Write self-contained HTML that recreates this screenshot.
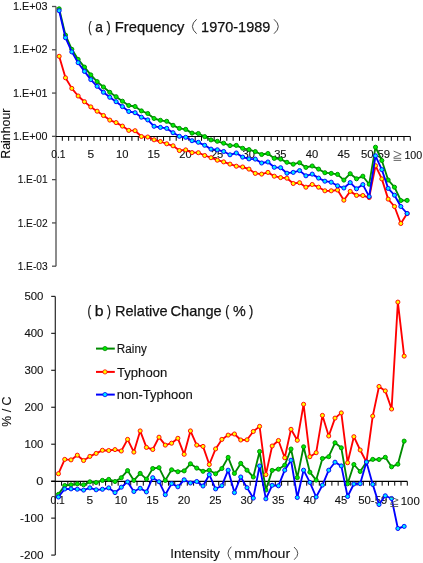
<!DOCTYPE html>
<html><head><meta charset="utf-8"><style>
html,body{margin:0;padding:0;background:#fff;width:423px;height:563px;overflow:hidden}
svg{display:block;will-change:transform}
text{font-family:"Liberation Sans", sans-serif;fill:#111;stroke:#111;stroke-width:0.12px}
.tt{stroke-width:0.25px}
</style></head><body>
<svg width="423" height="563" viewBox="0 0 423 563">
<line x1="56.0" y1="6.5" x2="56.0" y2="266.2" stroke="#666" stroke-width="1.5"/>
<line x1="52" y1="6.5" x2="56.0" y2="6.5" stroke="#505050" stroke-width="1.3"/>
<text x="13.1" y="10.2" font-size="11.8" textLength="34.43" lengthAdjust="spacingAndGlyphs">1.E+03</text>
<line x1="52" y1="49.78" x2="56.0" y2="49.78" stroke="#505050" stroke-width="1.3"/>
<text x="13.1" y="53.48" font-size="11.8" textLength="34.43" lengthAdjust="spacingAndGlyphs">1.E+02</text>
<line x1="52" y1="93.07" x2="56.0" y2="93.07" stroke="#505050" stroke-width="1.3"/>
<text x="13.1" y="96.77" font-size="11.8" textLength="34.43" lengthAdjust="spacingAndGlyphs">1.E+01</text>
<line x1="52" y1="136.35" x2="56.0" y2="136.35" stroke="#505050" stroke-width="1.3"/>
<text x="13.1" y="140.05" font-size="11.8" textLength="34.43" lengthAdjust="spacingAndGlyphs">1.E+00</text>
<line x1="52" y1="179.63" x2="56.0" y2="179.63" stroke="#505050" stroke-width="1.3"/>
<text x="17.64" y="183.33" font-size="11.8" textLength="30.01" lengthAdjust="spacingAndGlyphs">1.E-01</text>
<line x1="52" y1="222.92" x2="56.0" y2="222.92" stroke="#505050" stroke-width="1.3"/>
<text x="17.64" y="226.62" font-size="11.8" textLength="30.01" lengthAdjust="spacingAndGlyphs">1.E-02</text>
<line x1="52" y1="266.2" x2="56.0" y2="266.2" stroke="#505050" stroke-width="1.3"/>
<text x="17.64" y="269.9" font-size="11.8" textLength="30.01" lengthAdjust="spacingAndGlyphs">1.E-03</text>
<line x1="56.0" y1="136.5" x2="410.3" y2="136.5" stroke="#000" stroke-width="1.1"/>
<path d="M62.33 136.5v4.3M68.65 136.5v4.3M74.98 136.5v4.3M81.31 136.5v4.3M87.63 136.5v4.3M93.96 136.5v4.3M100.29 136.5v4.3M106.61 136.5v4.3M112.94 136.5v4.3M119.27 136.5v4.3M125.59 136.5v4.3M131.92 136.5v4.3M138.25 136.5v4.3M144.57 136.5v4.3M150.9 136.5v4.3M157.23 136.5v4.3M163.56 136.5v4.3M169.88 136.5v4.3M176.21 136.5v4.3M182.54 136.5v4.3M188.86 136.5v4.3M195.19 136.5v4.3M201.52 136.5v4.3M207.84 136.5v4.3M214.17 136.5v4.3M220.5 136.5v4.3M226.82 136.5v4.3M233.15 136.5v4.3M239.48 136.5v4.3M245.8 136.5v4.3M252.13 136.5v4.3M258.46 136.5v4.3M264.78 136.5v4.3M271.11 136.5v4.3M277.44 136.5v4.3M283.76 136.5v4.3M290.09 136.5v4.3M296.42 136.5v4.3M302.74 136.5v4.3M309.07 136.5v4.3M315.4 136.5v4.3M321.73 136.5v4.3M328.05 136.5v4.3M334.38 136.5v4.3M340.71 136.5v4.3M347.03 136.5v4.3M353.36 136.5v4.3M359.69 136.5v4.3M366.01 136.5v4.3M372.34 136.5v4.3M378.67 136.5v4.3M384.99 136.5v4.3M391.32 136.5v4.3M397.65 136.5v4.3M403.97 136.5v4.3M410.3 136.5v4.3" stroke="#000" stroke-width="1" fill="none"/>
<text x="51.27" y="158" font-size="11.5" textLength="14.3" lengthAdjust="spacingAndGlyphs">0.1</text>
<text x="87.48" y="158" font-size="11.5" textLength="6.66" lengthAdjust="spacingAndGlyphs">5</text>
<text x="115.98" y="158" font-size="11.5" textLength="12.46" lengthAdjust="spacingAndGlyphs">10</text>
<text x="147.61" y="158" font-size="11.5" textLength="12.46" lengthAdjust="spacingAndGlyphs">15</text>
<text x="179.25" y="158" font-size="11.5" textLength="12.46" lengthAdjust="spacingAndGlyphs">20</text>
<text x="210.88" y="158" font-size="11.5" textLength="12.46" lengthAdjust="spacingAndGlyphs">25</text>
<text x="242.51" y="158" font-size="11.5" textLength="12.46" lengthAdjust="spacingAndGlyphs">30</text>
<text x="274.15" y="158" font-size="11.5" textLength="12.46" lengthAdjust="spacingAndGlyphs">35</text>
<text x="305.78" y="158" font-size="11.5" textLength="12.46" lengthAdjust="spacingAndGlyphs">40</text>
<text x="337.42" y="158" font-size="11.5" textLength="12.46" lengthAdjust="spacingAndGlyphs">45</text>
<text x="360.96" y="158" font-size="11.5" textLength="29.13" lengthAdjust="spacingAndGlyphs">50-59</text>
<polyline points="59.16,8.8 65.49,35.1 71.82,49.3 78.14,59.4 84.47,67.1 90.8,74.9 97.12,81.6 103.45,87 109.78,92.3 116.1,96.7 122.43,101.2 128.76,105.5 135.08,106.5 141.41,110.9 147.74,113.5 154.07,118.5 160.39,120.3 166.72,121.3 173.05,125.3 179.37,128.4 185.7,129.4 192.03,133.1 198.35,133.5 204.68,136.6 211.01,139.9 217.33,141.3 223.66,143.2 229.99,145.6 236.31,145.4 242.64,148.3 248.97,149.6 255.29,151.6 261.62,154.5 267.95,153.5 274.27,158.4 280.6,159.1 286.93,162.3 293.25,164.2 299.58,162.7 305.91,167.4 312.23,166 318.56,169.1 324.89,172.7 331.22,173.4 337.54,174.4 343.87,180.1 350.2,173.7 356.52,178.8 362.85,176.2 369.18,184.2 375.5,147.2 381.83,160.5 388.16,180 394.48,187.2 400.81,200.5 407.14,200.4" fill="none" stroke="#008a00" stroke-width="1.85" stroke-linejoin="round"/><g fill="#00ee00" stroke="#008a00" stroke-width="0.95"><circle cx="59.16" cy="8.8" r="2.05"/><circle cx="65.49" cy="35.1" r="2.05"/><circle cx="71.82" cy="49.3" r="2.05"/><circle cx="78.14" cy="59.4" r="2.05"/><circle cx="84.47" cy="67.1" r="2.05"/><circle cx="90.8" cy="74.9" r="2.05"/><circle cx="97.12" cy="81.6" r="2.05"/><circle cx="103.45" cy="87" r="2.05"/><circle cx="109.78" cy="92.3" r="2.05"/><circle cx="116.1" cy="96.7" r="2.05"/><circle cx="122.43" cy="101.2" r="2.05"/><circle cx="128.76" cy="105.5" r="2.05"/><circle cx="135.08" cy="106.5" r="2.05"/><circle cx="141.41" cy="110.9" r="2.05"/><circle cx="147.74" cy="113.5" r="2.05"/><circle cx="154.07" cy="118.5" r="2.05"/><circle cx="160.39" cy="120.3" r="2.05"/><circle cx="166.72" cy="121.3" r="2.05"/><circle cx="173.05" cy="125.3" r="2.05"/><circle cx="179.37" cy="128.4" r="2.05"/><circle cx="185.7" cy="129.4" r="2.05"/><circle cx="192.03" cy="133.1" r="2.05"/><circle cx="198.35" cy="133.5" r="2.05"/><circle cx="204.68" cy="136.6" r="2.05"/><circle cx="211.01" cy="139.9" r="2.05"/><circle cx="217.33" cy="141.3" r="2.05"/><circle cx="223.66" cy="143.2" r="2.05"/><circle cx="229.99" cy="145.6" r="2.05"/><circle cx="236.31" cy="145.4" r="2.05"/><circle cx="242.64" cy="148.3" r="2.05"/><circle cx="248.97" cy="149.6" r="2.05"/><circle cx="255.29" cy="151.6" r="2.05"/><circle cx="261.62" cy="154.5" r="2.05"/><circle cx="267.95" cy="153.5" r="2.05"/><circle cx="274.27" cy="158.4" r="2.05"/><circle cx="280.6" cy="159.1" r="2.05"/><circle cx="286.93" cy="162.3" r="2.05"/><circle cx="293.25" cy="164.2" r="2.05"/><circle cx="299.58" cy="162.7" r="2.05"/><circle cx="305.91" cy="167.4" r="2.05"/><circle cx="312.23" cy="166" r="2.05"/><circle cx="318.56" cy="169.1" r="2.05"/><circle cx="324.89" cy="172.7" r="2.05"/><circle cx="331.22" cy="173.4" r="2.05"/><circle cx="337.54" cy="174.4" r="2.05"/><circle cx="343.87" cy="180.1" r="2.05"/><circle cx="350.2" cy="173.7" r="2.05"/><circle cx="356.52" cy="178.8" r="2.05"/><circle cx="362.85" cy="176.2" r="2.05"/><circle cx="369.18" cy="184.2" r="2.05"/><circle cx="375.5" cy="147.2" r="2.05"/><circle cx="381.83" cy="160.5" r="2.05"/><circle cx="388.16" cy="180" r="2.05"/><circle cx="394.48" cy="187.2" r="2.05"/><circle cx="400.81" cy="200.5" r="2.05"/><circle cx="407.14" cy="200.4" r="2.05"/></g>
<polyline points="59.16,56.3 65.49,77.8 71.82,88.4 78.14,96 84.47,101.7 90.8,106.9 97.12,111.2 103.45,115.5 109.78,120.1 116.1,122.6 122.43,126.1 128.76,130.4 135.08,130.7 141.41,136.5 147.74,137 154.07,139.8 160.39,141.5 166.72,143.8 173.05,145.8 179.37,150.5 185.7,149.9 192.03,152.6 198.35,152.7 204.68,155.5 211.01,157.7 217.33,160.2 223.66,161.9 229.99,164.1 236.31,166.2 242.64,167 248.97,169.1 255.29,173.4 261.62,174.1 267.95,172.4 274.27,176.2 280.6,177.6 286.93,178.2 293.25,183.5 299.58,182.7 305.91,187.2 312.23,184.5 318.56,187.2 324.89,190.8 331.22,190.8 337.54,190 343.87,200.2 350.2,191.4 356.52,195.4 362.85,195.5 369.18,197.6 375.5,165.7 381.83,178.9 388.16,199.1 394.48,206.5 400.81,223.5 407.14,213.5" fill="none" stroke="#ff0000" stroke-width="1.85" stroke-linejoin="round"/><g fill="#ffff00" stroke="#ff0000" stroke-width="0.95"><circle cx="59.16" cy="56.3" r="2.05"/><circle cx="65.49" cy="77.8" r="2.05"/><circle cx="71.82" cy="88.4" r="2.05"/><circle cx="78.14" cy="96" r="2.05"/><circle cx="84.47" cy="101.7" r="2.05"/><circle cx="90.8" cy="106.9" r="2.05"/><circle cx="97.12" cy="111.2" r="2.05"/><circle cx="103.45" cy="115.5" r="2.05"/><circle cx="109.78" cy="120.1" r="2.05"/><circle cx="116.1" cy="122.6" r="2.05"/><circle cx="122.43" cy="126.1" r="2.05"/><circle cx="128.76" cy="130.4" r="2.05"/><circle cx="135.08" cy="130.7" r="2.05"/><circle cx="141.41" cy="136.5" r="2.05"/><circle cx="147.74" cy="137" r="2.05"/><circle cx="154.07" cy="139.8" r="2.05"/><circle cx="160.39" cy="141.5" r="2.05"/><circle cx="166.72" cy="143.8" r="2.05"/><circle cx="173.05" cy="145.8" r="2.05"/><circle cx="179.37" cy="150.5" r="2.05"/><circle cx="185.7" cy="149.9" r="2.05"/><circle cx="192.03" cy="152.6" r="2.05"/><circle cx="198.35" cy="152.7" r="2.05"/><circle cx="204.68" cy="155.5" r="2.05"/><circle cx="211.01" cy="157.7" r="2.05"/><circle cx="217.33" cy="160.2" r="2.05"/><circle cx="223.66" cy="161.9" r="2.05"/><circle cx="229.99" cy="164.1" r="2.05"/><circle cx="236.31" cy="166.2" r="2.05"/><circle cx="242.64" cy="167" r="2.05"/><circle cx="248.97" cy="169.1" r="2.05"/><circle cx="255.29" cy="173.4" r="2.05"/><circle cx="261.62" cy="174.1" r="2.05"/><circle cx="267.95" cy="172.4" r="2.05"/><circle cx="274.27" cy="176.2" r="2.05"/><circle cx="280.6" cy="177.6" r="2.05"/><circle cx="286.93" cy="178.2" r="2.05"/><circle cx="293.25" cy="183.5" r="2.05"/><circle cx="299.58" cy="182.7" r="2.05"/><circle cx="305.91" cy="187.2" r="2.05"/><circle cx="312.23" cy="184.5" r="2.05"/><circle cx="318.56" cy="187.2" r="2.05"/><circle cx="324.89" cy="190.8" r="2.05"/><circle cx="331.22" cy="190.8" r="2.05"/><circle cx="337.54" cy="190" r="2.05"/><circle cx="343.87" cy="200.2" r="2.05"/><circle cx="350.2" cy="191.4" r="2.05"/><circle cx="356.52" cy="195.4" r="2.05"/><circle cx="362.85" cy="195.5" r="2.05"/><circle cx="369.18" cy="197.6" r="2.05"/><circle cx="375.5" cy="165.7" r="2.05"/><circle cx="381.83" cy="178.9" r="2.05"/><circle cx="388.16" cy="199.1" r="2.05"/><circle cx="394.48" cy="206.5" r="2.05"/><circle cx="400.81" cy="223.5" r="2.05"/><circle cx="407.14" cy="213.5" r="2.05"/></g>
<polyline points="59.16,10.7 65.49,37.7 71.82,51.9 78.14,62.7 84.47,71.4 90.8,79.6 97.12,86.3 103.45,92.3 109.78,97.3 116.1,101.7 122.43,106.6 128.76,111.5 135.08,112.7 141.41,117.2 147.74,119.9 154.07,126.3 160.39,127.4 166.72,128.4 173.05,132.7 179.37,136.3 185.7,137.3 192.03,140.7 198.35,142.3 204.68,145.3 211.01,149.1 217.33,149.8 223.66,151.5 229.99,154.8 236.31,153 242.64,157.1 248.97,158.9 255.29,159.1 261.62,163 267.95,162 274.27,167.3 280.6,167.7 286.93,173.2 293.25,172.4 299.58,170.6 305.91,175.8 312.23,174.1 318.56,178.1 324.89,181.2 331.22,182.2 337.54,185.8 343.87,188 350.2,182.6 356.52,188.8 362.85,184.6 369.18,196.6 375.5,155.8 381.83,169.6 388.16,188.4 394.48,195.2 400.81,206.5 407.14,213.5" fill="none" stroke="#0000ff" stroke-width="1.85" stroke-linejoin="round"/><g fill="#00e8ff" stroke="#0000ff" stroke-width="0.95"><circle cx="59.16" cy="10.7" r="2.05"/><circle cx="65.49" cy="37.7" r="2.05"/><circle cx="71.82" cy="51.9" r="2.05"/><circle cx="78.14" cy="62.7" r="2.05"/><circle cx="84.47" cy="71.4" r="2.05"/><circle cx="90.8" cy="79.6" r="2.05"/><circle cx="97.12" cy="86.3" r="2.05"/><circle cx="103.45" cy="92.3" r="2.05"/><circle cx="109.78" cy="97.3" r="2.05"/><circle cx="116.1" cy="101.7" r="2.05"/><circle cx="122.43" cy="106.6" r="2.05"/><circle cx="128.76" cy="111.5" r="2.05"/><circle cx="135.08" cy="112.7" r="2.05"/><circle cx="141.41" cy="117.2" r="2.05"/><circle cx="147.74" cy="119.9" r="2.05"/><circle cx="154.07" cy="126.3" r="2.05"/><circle cx="160.39" cy="127.4" r="2.05"/><circle cx="166.72" cy="128.4" r="2.05"/><circle cx="173.05" cy="132.7" r="2.05"/><circle cx="179.37" cy="136.3" r="2.05"/><circle cx="185.7" cy="137.3" r="2.05"/><circle cx="192.03" cy="140.7" r="2.05"/><circle cx="198.35" cy="142.3" r="2.05"/><circle cx="204.68" cy="145.3" r="2.05"/><circle cx="211.01" cy="149.1" r="2.05"/><circle cx="217.33" cy="149.8" r="2.05"/><circle cx="223.66" cy="151.5" r="2.05"/><circle cx="229.99" cy="154.8" r="2.05"/><circle cx="236.31" cy="153" r="2.05"/><circle cx="242.64" cy="157.1" r="2.05"/><circle cx="248.97" cy="158.9" r="2.05"/><circle cx="255.29" cy="159.1" r="2.05"/><circle cx="261.62" cy="163" r="2.05"/><circle cx="267.95" cy="162" r="2.05"/><circle cx="274.27" cy="167.3" r="2.05"/><circle cx="280.6" cy="167.7" r="2.05"/><circle cx="286.93" cy="173.2" r="2.05"/><circle cx="293.25" cy="172.4" r="2.05"/><circle cx="299.58" cy="170.6" r="2.05"/><circle cx="305.91" cy="175.8" r="2.05"/><circle cx="312.23" cy="174.1" r="2.05"/><circle cx="318.56" cy="178.1" r="2.05"/><circle cx="324.89" cy="181.2" r="2.05"/><circle cx="331.22" cy="182.2" r="2.05"/><circle cx="337.54" cy="185.8" r="2.05"/><circle cx="343.87" cy="188" r="2.05"/><circle cx="350.2" cy="182.6" r="2.05"/><circle cx="356.52" cy="188.8" r="2.05"/><circle cx="362.85" cy="184.6" r="2.05"/><circle cx="369.18" cy="196.6" r="2.05"/><circle cx="375.5" cy="155.8" r="2.05"/><circle cx="381.83" cy="169.6" r="2.05"/><circle cx="388.16" cy="188.4" r="2.05"/><circle cx="394.48" cy="195.2" r="2.05"/><circle cx="400.81" cy="206.5" r="2.05"/><circle cx="407.14" cy="213.5" r="2.05"/></g>
<line x1="55.3" y1="296.4" x2="55.3" y2="555.1" stroke="#262626" stroke-width="1.2"/>
<line x1="51.2" y1="296.4" x2="55.3" y2="296.4" stroke="#262626" stroke-width="1.2"/>
<text x="24.42" y="299.8" font-size="11.8" textLength="19.01" lengthAdjust="spacingAndGlyphs">500</text>
<line x1="51.2" y1="333.36" x2="55.3" y2="333.36" stroke="#262626" stroke-width="1.2"/>
<text x="24.42" y="336.76" font-size="11.8" textLength="19.01" lengthAdjust="spacingAndGlyphs">400</text>
<line x1="51.2" y1="370.31" x2="55.3" y2="370.31" stroke="#262626" stroke-width="1.2"/>
<text x="24.42" y="373.71" font-size="11.8" textLength="19.01" lengthAdjust="spacingAndGlyphs">300</text>
<line x1="51.2" y1="407.27" x2="55.3" y2="407.27" stroke="#262626" stroke-width="1.2"/>
<text x="24.42" y="410.67" font-size="11.8" textLength="19.01" lengthAdjust="spacingAndGlyphs">200</text>
<line x1="51.2" y1="444.23" x2="55.3" y2="444.23" stroke="#262626" stroke-width="1.2"/>
<text x="24.42" y="447.63" font-size="11.8" textLength="19.01" lengthAdjust="spacingAndGlyphs">100</text>
<line x1="51.2" y1="481.19" x2="55.3" y2="481.19" stroke="#262626" stroke-width="1.2"/>
<text x="36.36" y="484.59" font-size="11.8" textLength="7.12" lengthAdjust="spacingAndGlyphs">0</text>
<line x1="51.2" y1="518.14" x2="55.3" y2="518.14" stroke="#262626" stroke-width="1.2"/>
<text x="20" y="521.54" font-size="11.8" textLength="23.48" lengthAdjust="spacingAndGlyphs">-100</text>
<line x1="51.2" y1="555.1" x2="55.3" y2="555.1" stroke="#262626" stroke-width="1.2"/>
<text x="20" y="558.5" font-size="11.8" textLength="23.48" lengthAdjust="spacingAndGlyphs">-200</text>
<line x1="51.2" y1="481.4" x2="407.3" y2="481.4" stroke="#000" stroke-width="1.2"/>
<path d="M61.59 481.4v4.3M67.87 481.4v4.3M74.16 481.4v4.3M80.44 481.4v4.3M86.73 481.4v4.3M93.01 481.4v4.3M99.3 481.4v4.3M105.59 481.4v4.3M111.87 481.4v4.3M118.16 481.4v4.3M124.44 481.4v4.3M130.73 481.4v4.3M137.01 481.4v4.3M143.3 481.4v4.3M149.59 481.4v4.3M155.87 481.4v4.3M162.16 481.4v4.3M168.44 481.4v4.3M174.73 481.4v4.3M181.01 481.4v4.3M187.3 481.4v4.3M193.59 481.4v4.3M199.87 481.4v4.3M206.16 481.4v4.3M212.44 481.4v4.3M218.73 481.4v4.3M225.01 481.4v4.3M231.3 481.4v4.3M237.59 481.4v4.3M243.87 481.4v4.3M250.16 481.4v4.3M256.44 481.4v4.3M262.73 481.4v4.3M269.01 481.4v4.3M275.3 481.4v4.3M281.59 481.4v4.3M287.87 481.4v4.3M294.16 481.4v4.3M300.44 481.4v4.3M306.73 481.4v4.3M313.01 481.4v4.3M319.3 481.4v4.3M325.59 481.4v4.3M331.87 481.4v4.3M338.16 481.4v4.3M344.44 481.4v4.3M350.73 481.4v4.3M357.01 481.4v4.3M363.3 481.4v4.3M369.59 481.4v4.3M375.87 481.4v4.3M382.16 481.4v4.3M388.44 481.4v4.3M394.73 481.4v4.3M401.01 481.4v4.3M407.3 481.4v4.3" stroke="#000" stroke-width="1" fill="none"/>
<text x="50.55" y="504.4" font-size="11.5" textLength="14.3" lengthAdjust="spacingAndGlyphs">0.1</text>
<text x="86.55" y="504.4" font-size="11.5" textLength="6.66" lengthAdjust="spacingAndGlyphs">5</text>
<text x="114.85" y="504.4" font-size="11.5" textLength="12.46" lengthAdjust="spacingAndGlyphs">10</text>
<text x="146.28" y="504.4" font-size="11.5" textLength="12.46" lengthAdjust="spacingAndGlyphs">15</text>
<text x="177.7" y="504.4" font-size="11.5" textLength="12.46" lengthAdjust="spacingAndGlyphs">20</text>
<text x="209.13" y="504.4" font-size="11.5" textLength="12.46" lengthAdjust="spacingAndGlyphs">25</text>
<text x="240.56" y="504.4" font-size="11.5" textLength="12.46" lengthAdjust="spacingAndGlyphs">30</text>
<text x="271.99" y="504.4" font-size="11.5" textLength="12.46" lengthAdjust="spacingAndGlyphs">35</text>
<text x="303.42" y="504.4" font-size="11.5" textLength="12.46" lengthAdjust="spacingAndGlyphs">40</text>
<text x="334.85" y="504.4" font-size="11.5" textLength="12.46" lengthAdjust="spacingAndGlyphs">45</text>
<text x="358.18" y="504.4" font-size="11.5" textLength="29.13" lengthAdjust="spacingAndGlyphs">50-59</text>
<polyline points="58.44,494.4 64.73,485.5 71.01,484.8 77.3,483.9 83.59,484.8 89.87,481.8 96.16,482.5 102.44,480.4 108.73,479.4 115.01,481.5 121.3,477.7 127.59,470.6 133.87,480.4 140.16,473.4 146.44,479.1 152.73,468.5 159.01,467.7 165.3,480.4 171.59,469.8 177.87,471.7 184.16,470.9 190.44,463.8 196.73,468.1 203.01,471.3 209.3,470.2 215.59,473.8 221.87,468.5 228.16,457.4 234.44,473.4 240.73,463.4 247.01,470.2 253.3,477 259.59,451.5 265.87,490 272.16,470.4 278.44,469.2 284.73,465.2 291.01,449 297.3,477.6 303.59,446.8 309.87,472.2 316.16,480.1 322.44,458.5 328.73,456.7 335.01,442.8 341.3,447.8 347.59,483.8 353.87,464.5 360.16,471.5 366.44,462 372.73,459.4 379.01,459.5 385.3,457.3 391.59,466.8 397.87,464.2 404.16,441.1" fill="none" stroke="#008a00" stroke-width="1.85" stroke-linejoin="round"/><g fill="#00ee00" stroke="#008a00" stroke-width="0.95"><circle cx="58.44" cy="494.4" r="2.05"/><circle cx="64.73" cy="485.5" r="2.05"/><circle cx="71.01" cy="484.8" r="2.05"/><circle cx="77.3" cy="483.9" r="2.05"/><circle cx="83.59" cy="484.8" r="2.05"/><circle cx="89.87" cy="481.8" r="2.05"/><circle cx="96.16" cy="482.5" r="2.05"/><circle cx="102.44" cy="480.4" r="2.05"/><circle cx="108.73" cy="479.4" r="2.05"/><circle cx="115.01" cy="481.5" r="2.05"/><circle cx="121.3" cy="477.7" r="2.05"/><circle cx="127.59" cy="470.6" r="2.05"/><circle cx="133.87" cy="480.4" r="2.05"/><circle cx="140.16" cy="473.4" r="2.05"/><circle cx="146.44" cy="479.1" r="2.05"/><circle cx="152.73" cy="468.5" r="2.05"/><circle cx="159.01" cy="467.7" r="2.05"/><circle cx="165.3" cy="480.4" r="2.05"/><circle cx="171.59" cy="469.8" r="2.05"/><circle cx="177.87" cy="471.7" r="2.05"/><circle cx="184.16" cy="470.9" r="2.05"/><circle cx="190.44" cy="463.8" r="2.05"/><circle cx="196.73" cy="468.1" r="2.05"/><circle cx="203.01" cy="471.3" r="2.05"/><circle cx="209.3" cy="470.2" r="2.05"/><circle cx="215.59" cy="473.8" r="2.05"/><circle cx="221.87" cy="468.5" r="2.05"/><circle cx="228.16" cy="457.4" r="2.05"/><circle cx="234.44" cy="473.4" r="2.05"/><circle cx="240.73" cy="463.4" r="2.05"/><circle cx="247.01" cy="470.2" r="2.05"/><circle cx="253.3" cy="477" r="2.05"/><circle cx="259.59" cy="451.5" r="2.05"/><circle cx="265.87" cy="490" r="2.05"/><circle cx="272.16" cy="470.4" r="2.05"/><circle cx="278.44" cy="469.2" r="2.05"/><circle cx="284.73" cy="465.2" r="2.05"/><circle cx="291.01" cy="449" r="2.05"/><circle cx="297.3" cy="477.6" r="2.05"/><circle cx="303.59" cy="446.8" r="2.05"/><circle cx="309.87" cy="472.2" r="2.05"/><circle cx="316.16" cy="480.1" r="2.05"/><circle cx="322.44" cy="458.5" r="2.05"/><circle cx="328.73" cy="456.7" r="2.05"/><circle cx="335.01" cy="442.8" r="2.05"/><circle cx="341.3" cy="447.8" r="2.05"/><circle cx="347.59" cy="483.8" r="2.05"/><circle cx="353.87" cy="464.5" r="2.05"/><circle cx="360.16" cy="471.5" r="2.05"/><circle cx="366.44" cy="462" r="2.05"/><circle cx="372.73" cy="459.4" r="2.05"/><circle cx="379.01" cy="459.5" r="2.05"/><circle cx="385.3" cy="457.3" r="2.05"/><circle cx="391.59" cy="466.8" r="2.05"/><circle cx="397.87" cy="464.2" r="2.05"/><circle cx="404.16" cy="441.1" r="2.05"/></g>
<polyline points="58.44,473.7 64.73,459.4 71.01,459.9 77.3,455.2 83.59,460.5 89.87,456.4 96.16,453.4 102.44,450.3 108.73,450.5 115.01,449.6 121.3,451 127.59,439.4 133.87,452.1 140.16,430.9 146.44,447.4 152.73,449.5 159.01,437.2 165.3,445.1 171.59,443.2 177.87,438.3 184.16,454.3 190.44,430.9 196.73,445.1 203.01,446.4 209.3,464.5 215.59,448.9 221.87,439.4 228.16,435.1 234.44,434 240.73,440 247.01,439.8 253.3,431.5 259.59,426.4 265.87,474.6 272.16,446 278.44,440.5 284.73,457.7 291.01,429.3 297.3,440.3 303.59,404.3 309.87,456.7 316.16,452.7 322.44,415.4 328.73,436 335.01,418.1 341.3,412.9 347.59,462.7 353.87,436.7 360.16,450 366.44,462 372.73,416.1 379.01,386.5 385.3,390.9 391.59,409 397.87,302.1 404.16,356.1" fill="none" stroke="#ff0000" stroke-width="1.85" stroke-linejoin="round"/><g fill="#ffff00" stroke="#ff0000" stroke-width="0.95"><circle cx="58.44" cy="473.7" r="2.05"/><circle cx="64.73" cy="459.4" r="2.05"/><circle cx="71.01" cy="459.9" r="2.05"/><circle cx="77.3" cy="455.2" r="2.05"/><circle cx="83.59" cy="460.5" r="2.05"/><circle cx="89.87" cy="456.4" r="2.05"/><circle cx="96.16" cy="453.4" r="2.05"/><circle cx="102.44" cy="450.3" r="2.05"/><circle cx="108.73" cy="450.5" r="2.05"/><circle cx="115.01" cy="449.6" r="2.05"/><circle cx="121.3" cy="451" r="2.05"/><circle cx="127.59" cy="439.4" r="2.05"/><circle cx="133.87" cy="452.1" r="2.05"/><circle cx="140.16" cy="430.9" r="2.05"/><circle cx="146.44" cy="447.4" r="2.05"/><circle cx="152.73" cy="449.5" r="2.05"/><circle cx="159.01" cy="437.2" r="2.05"/><circle cx="165.3" cy="445.1" r="2.05"/><circle cx="171.59" cy="443.2" r="2.05"/><circle cx="177.87" cy="438.3" r="2.05"/><circle cx="184.16" cy="454.3" r="2.05"/><circle cx="190.44" cy="430.9" r="2.05"/><circle cx="196.73" cy="445.1" r="2.05"/><circle cx="203.01" cy="446.4" r="2.05"/><circle cx="209.3" cy="464.5" r="2.05"/><circle cx="215.59" cy="448.9" r="2.05"/><circle cx="221.87" cy="439.4" r="2.05"/><circle cx="228.16" cy="435.1" r="2.05"/><circle cx="234.44" cy="434" r="2.05"/><circle cx="240.73" cy="440" r="2.05"/><circle cx="247.01" cy="439.8" r="2.05"/><circle cx="253.3" cy="431.5" r="2.05"/><circle cx="259.59" cy="426.4" r="2.05"/><circle cx="265.87" cy="474.6" r="2.05"/><circle cx="272.16" cy="446" r="2.05"/><circle cx="278.44" cy="440.5" r="2.05"/><circle cx="284.73" cy="457.7" r="2.05"/><circle cx="291.01" cy="429.3" r="2.05"/><circle cx="297.3" cy="440.3" r="2.05"/><circle cx="303.59" cy="404.3" r="2.05"/><circle cx="309.87" cy="456.7" r="2.05"/><circle cx="316.16" cy="452.7" r="2.05"/><circle cx="322.44" cy="415.4" r="2.05"/><circle cx="328.73" cy="436" r="2.05"/><circle cx="335.01" cy="418.1" r="2.05"/><circle cx="341.3" cy="412.9" r="2.05"/><circle cx="347.59" cy="462.7" r="2.05"/><circle cx="353.87" cy="436.7" r="2.05"/><circle cx="360.16" cy="450" r="2.05"/><circle cx="366.44" cy="462" r="2.05"/><circle cx="372.73" cy="416.1" r="2.05"/><circle cx="379.01" cy="386.5" r="2.05"/><circle cx="385.3" cy="390.9" r="2.05"/><circle cx="391.59" cy="409" r="2.05"/><circle cx="397.87" cy="302.1" r="2.05"/><circle cx="404.16" cy="356.1" r="2.05"/></g>
<polyline points="58.44,497 64.73,489 71.01,488.9 77.3,489.2 83.59,490.1 89.87,487.8 96.16,489.8 102.44,489.3 108.73,487.9 115.01,492.6 121.3,487.2 127.59,481.9 133.87,491.5 140.16,488.3 146.44,491.9 152.73,477.7 159.01,481.7 165.3,494.7 171.59,483.6 177.87,486.8 184.16,479.8 190.44,483 196.73,481.5 203.01,486 209.3,474.7 215.59,488.9 221.87,485.7 228.16,470.2 234.44,492.6 240.73,477 247.01,487.7 253.3,498.1 259.59,466 265.87,498.8 272.16,485.3 278.44,485.8 284.73,470.2 291.01,460.2 297.3,497.5 303.59,470.2 309.87,482.4 316.16,497 322.44,485.1 328.73,470.2 335.01,462.2 341.3,465.9 347.59,496.5 353.87,484 360.16,483.7 366.44,462 372.73,484.4 379.01,504.5 385.3,495.8 391.59,498.5 397.87,528.5 404.16,526.4" fill="none" stroke="#0000ff" stroke-width="1.85" stroke-linejoin="round"/><g fill="#00e8ff" stroke="#0000ff" stroke-width="0.95"><circle cx="58.44" cy="497" r="2.05"/><circle cx="64.73" cy="489" r="2.05"/><circle cx="71.01" cy="488.9" r="2.05"/><circle cx="77.3" cy="489.2" r="2.05"/><circle cx="83.59" cy="490.1" r="2.05"/><circle cx="89.87" cy="487.8" r="2.05"/><circle cx="96.16" cy="489.8" r="2.05"/><circle cx="102.44" cy="489.3" r="2.05"/><circle cx="108.73" cy="487.9" r="2.05"/><circle cx="115.01" cy="492.6" r="2.05"/><circle cx="121.3" cy="487.2" r="2.05"/><circle cx="127.59" cy="481.9" r="2.05"/><circle cx="133.87" cy="491.5" r="2.05"/><circle cx="140.16" cy="488.3" r="2.05"/><circle cx="146.44" cy="491.9" r="2.05"/><circle cx="152.73" cy="477.7" r="2.05"/><circle cx="159.01" cy="481.7" r="2.05"/><circle cx="165.3" cy="494.7" r="2.05"/><circle cx="171.59" cy="483.6" r="2.05"/><circle cx="177.87" cy="486.8" r="2.05"/><circle cx="184.16" cy="479.8" r="2.05"/><circle cx="190.44" cy="483" r="2.05"/><circle cx="196.73" cy="481.5" r="2.05"/><circle cx="203.01" cy="486" r="2.05"/><circle cx="209.3" cy="474.7" r="2.05"/><circle cx="215.59" cy="488.9" r="2.05"/><circle cx="221.87" cy="485.7" r="2.05"/><circle cx="228.16" cy="470.2" r="2.05"/><circle cx="234.44" cy="492.6" r="2.05"/><circle cx="240.73" cy="477" r="2.05"/><circle cx="247.01" cy="487.7" r="2.05"/><circle cx="253.3" cy="498.1" r="2.05"/><circle cx="259.59" cy="466" r="2.05"/><circle cx="265.87" cy="498.8" r="2.05"/><circle cx="272.16" cy="485.3" r="2.05"/><circle cx="278.44" cy="485.8" r="2.05"/><circle cx="284.73" cy="470.2" r="2.05"/><circle cx="291.01" cy="460.2" r="2.05"/><circle cx="297.3" cy="497.5" r="2.05"/><circle cx="303.59" cy="470.2" r="2.05"/><circle cx="309.87" cy="482.4" r="2.05"/><circle cx="316.16" cy="497" r="2.05"/><circle cx="322.44" cy="485.1" r="2.05"/><circle cx="328.73" cy="470.2" r="2.05"/><circle cx="335.01" cy="462.2" r="2.05"/><circle cx="341.3" cy="465.9" r="2.05"/><circle cx="347.59" cy="496.5" r="2.05"/><circle cx="353.87" cy="484" r="2.05"/><circle cx="360.16" cy="483.7" r="2.05"/><circle cx="366.44" cy="462" r="2.05"/><circle cx="372.73" cy="484.4" r="2.05"/><circle cx="379.01" cy="504.5" r="2.05"/><circle cx="385.3" cy="495.8" r="2.05"/><circle cx="391.59" cy="498.5" r="2.05"/><circle cx="397.87" cy="528.5" r="2.05"/><circle cx="404.16" cy="526.4" r="2.05"/></g>
<path d="M393.6 151.1L401.2 154.3L393.6 157.4M393.6 158.3H401.2M393.6 160.4H401.2" stroke="#4a4a4a" stroke-width="0.85" fill="none"/>
<text x="404.39" y="159" font-size="11.5" textLength="17.82" lengthAdjust="spacingAndGlyphs">100</text>
<path d="M390.3 496.8L398.2 500L390.3 503.3M390.3 504.4H398.2M390.3 506.5H398.2" stroke="#4a4a4a" stroke-width="0.85" fill="none"/>
<text x="400.73" y="504.9" font-size="11.5" textLength="19" lengthAdjust="spacingAndGlyphs">100</text>
<text class="tt" x="88.31" y="31.5" font-size="15" textLength="3.37" lengthAdjust="spacingAndGlyphs">(</text>
<text class="tt" x="95.23" y="31.5" font-size="15" textLength="7.64" lengthAdjust="spacingAndGlyphs">a</text>
<text class="tt" x="106.59" y="31.5" font-size="15" textLength="4.25" lengthAdjust="spacingAndGlyphs">)</text>
<text class="tt" x="114.77" y="31.5" font-size="15" textLength="69.72" lengthAdjust="spacingAndGlyphs">Frequency</text>
<path d="M196.6 19.3Q188.2 26.5 196.6 33.7" stroke="#3a3a3a" stroke-width="0.95" fill="none"/>
<text class="tt" x="201.11" y="31.5" font-size="15" textLength="69.19" lengthAdjust="spacingAndGlyphs">1970-1989</text>
<path d="M274 19.3Q282.6 26.5 274 33.7" stroke="#3a3a3a" stroke-width="0.95" fill="none"/>
<text class="tt" x="87.44" y="315.7" font-size="15" textLength="3.75" lengthAdjust="spacingAndGlyphs">(</text>
<text class="tt" x="94.75" y="315.7" font-size="15" textLength="8.78" lengthAdjust="spacingAndGlyphs">b</text>
<text class="tt" x="106.9" y="315.7" font-size="15" textLength="3.87" lengthAdjust="spacingAndGlyphs">)</text>
<text class="tt" x="114.98" y="315.7" font-size="15" textLength="52.69" lengthAdjust="spacingAndGlyphs">Relative</text>
<text class="tt" x="170.57" y="315.7" font-size="15" textLength="51.18" lengthAdjust="spacingAndGlyphs">Change</text>
<text class="tt" x="225.2" y="315.5" font-size="15" textLength="4" lengthAdjust="spacingAndGlyphs">(</text>
<text class="tt" x="233.12" y="315.6" font-size="15" textLength="12.74" lengthAdjust="spacingAndGlyphs">%</text>
<text class="tt" x="249.09" y="315.6" font-size="15" textLength="4.25" lengthAdjust="spacingAndGlyphs">)</text>
<line x1="96" y1="348.6" x2="114.8" y2="348.6" stroke="#008a00" stroke-width="2"/>
<circle cx="105" cy="348.6" r="2.15" fill="#00ee00" stroke="#008a00" stroke-width="0.8"/>
<text x="116.85" y="353.2" font-size="12.3" textLength="29.92" lengthAdjust="spacingAndGlyphs">Rainy</text>
<line x1="96" y1="371.9" x2="114.8" y2="371.9" stroke="#ff0000" stroke-width="2"/>
<circle cx="105" cy="371.9" r="2.15" fill="#ffff00" stroke="#ff0000" stroke-width="0.8"/>
<text x="117.03" y="376.8" font-size="12.3" textLength="50.23" lengthAdjust="spacingAndGlyphs">Typhoon</text>
<line x1="96" y1="394.6" x2="114.8" y2="394.6" stroke="#0000ff" stroke-width="2"/>
<circle cx="105" cy="394.6" r="2.15" fill="#00e8ff" stroke="#0000ff" stroke-width="0.8"/>
<text x="116.67" y="398.8" font-size="12.3" textLength="76.18" lengthAdjust="spacingAndGlyphs">non-Typhoon</text>
<text transform="translate(10.4,158.71) rotate(-90)" x="0" y="0" font-size="12.3" textLength="50.17" lengthAdjust="spacingAndGlyphs">Rainhour</text>
<text transform="translate(11.2,426.7) rotate(-90)" x="0" y="0" font-size="12.3" textLength="30.04" lengthAdjust="spacingAndGlyphs">% / C</text>
<text x="170.32" y="557.7" font-size="13" textLength="49.52" lengthAdjust="spacingAndGlyphs">Intensity</text>
<path d="M231.3 546.7Q224.9 553.2 230.9 559.7" stroke="#3a3a3a" stroke-width="0.9" fill="none"/>
<text x="234.35" y="557.7" font-size="13" textLength="55.83" lengthAdjust="spacingAndGlyphs">mm/hour</text>
<path d="M294 547Q301.5 553.3 294.2 559.7" stroke="#3a3a3a" stroke-width="0.9" fill="none"/>
</svg>
</body></html>
